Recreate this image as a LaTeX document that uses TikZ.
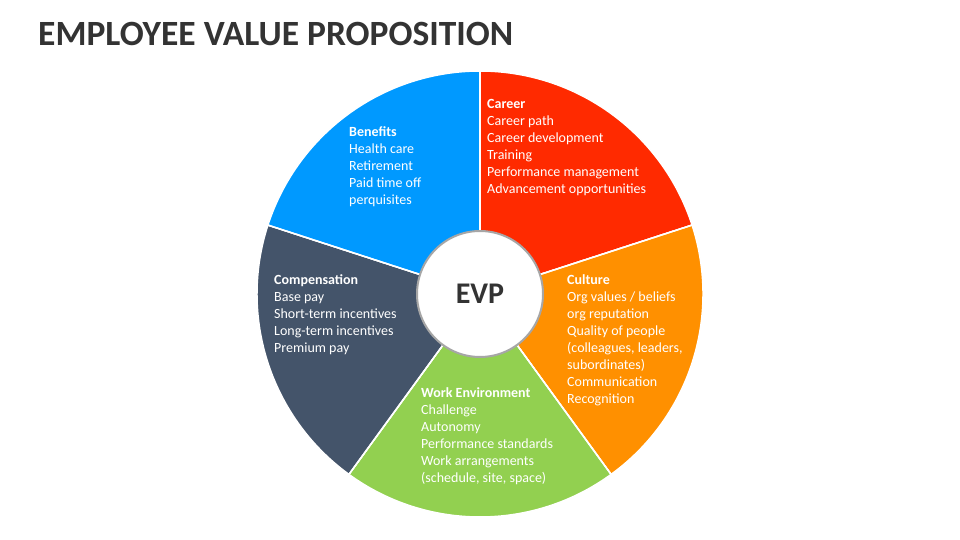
\documentclass[tikz,border=0pt]{standalone}
\usepackage{fontspec}
\setmainfont{Carlito}
\definecolor{cred}{HTML}{FF2A00}
\definecolor{corange}{HTML}{FF9000}
\definecolor{cgreen}{HTML}{92D050}
\definecolor{cslate}{HTML}{44546A}
\definecolor{cblue}{HTML}{0099FF}
\begin{document}
\begin{tikzpicture}[x=1pt,y=1pt,
  sect/.style={draw=white,line width=1.5pt},
  lab/.style={anchor=north west,inner sep=0pt,align=left,text=white,font=\fontsize{14}{17}\selectfont}]
\useasboundingbox (0,0) rectangle (960,540);
\coordinate (c) at (480,246);
\def\R{223}
\fill[sect,fill=cred] (c) -- ++(90:\R) arc[start angle=90,end angle=18,radius=\R] -- cycle;
\fill[sect,fill=corange] (c) -- ++(18:\R) arc[start angle=18,end angle=-54,radius=\R] -- cycle;
\fill[sect,fill=cgreen] (c) -- ++(-54:\R) arc[start angle=-54,end angle=-126,radius=\R] -- cycle;
\fill[sect,fill=cslate] (c) -- ++(-126:\R) arc[start angle=-126,end angle=-198,radius=\R] -- cycle;
\fill[sect,fill=cblue] (c) -- ++(162:\R) arc[start angle=162,end angle=90,radius=\R] -- cycle;
\foreach \a in {90,18,-54,-126,162} \draw[white,line width=1.5pt] (c) -- ++(\a:\R);
\node[circle,draw=gray!70,line width=2pt,fill=white,minimum size=126pt,inner sep=0pt,font=\fontsize{30}{34}\bfseries\selectfont,text=black!80] (evp) at (c) {EVP};
\node[anchor=west,inner sep=0pt,font=\fontsize{35.5}{40}\bfseries\selectfont,text=black!80] (title) at (38,506) {EMPLOYEE VALUE PROPOSITION};
\node[lab] (career) at (487,441) {\textbf{Career}\\Career path\\Career development\\Training\\Performance management\\Advancement opportunities};
\node[lab] (benefits) at (349,414) {\textbf{Benefits}\\Health care\\Retirement\\Paid time off\\perquisites};
\node[lab] (comp) at (274,266) {\textbf{Compensation}\\Base pay\\Short-term incentives\\Long-term incentives\\Premium pay};
\node[lab] (culture) at (567,266) {\textbf{Culture}\\Org values / beliefs\\org reputation\\Quality of people\\(colleagues, leaders,\\subordinates)\\Communication\\Recognition};
\node[lab] (work) at (421,153) {\textbf{Work Environment}\\Challenge\\Autonomy\\Performance standards\\Work arrangements\\(schedule, site, space)};
\end{tikzpicture}
\end{document}
